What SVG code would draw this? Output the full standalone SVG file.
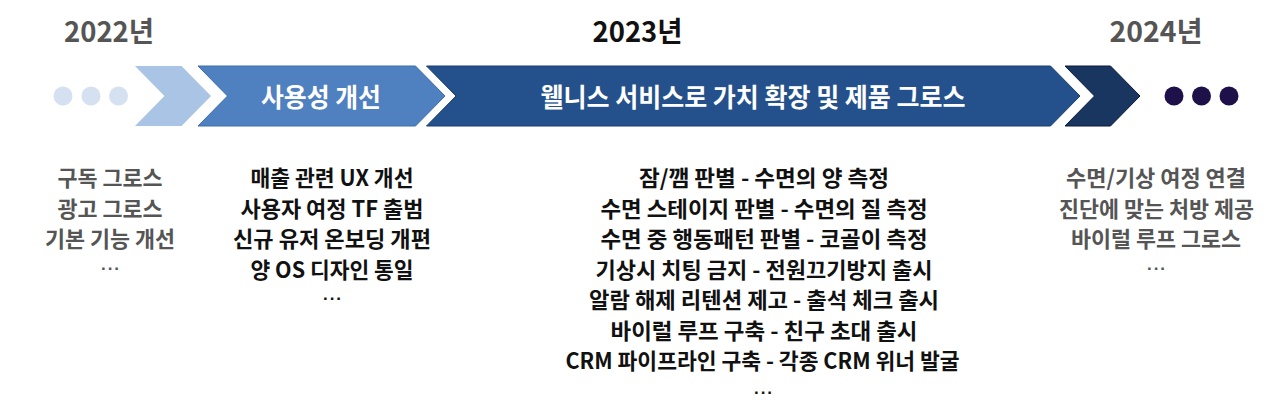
<svg xmlns="http://www.w3.org/2000/svg" width="1280" height="409" viewBox="0 0 1280 409">
<style>
.t{font-family:"Noto Sans CJK KR","Noto Sans",sans-serif;font-weight:700;text-anchor:middle}
.yr{font-size:28.5px}
.gray{fill:#555555}
.blk{fill:#111111}
.head{font-size:26px;fill:#ffffff}
.item{font-size:22px}
.more{font-family:"Liberation Sans",Arial,sans-serif;font-size:17px;letter-spacing:2px}
.dl{fill:#d5e1f0}
.dr{fill:#1e1048}
</style>
<rect width="1280" height="409" fill="#ffffff"/>
<g id="years">
<text class="t yr gray" x="109" y="42" textLength="90" lengthAdjust="spacingAndGlyphs">2022년</text>
<text class="t yr blk" x="637.5" y="42" textLength="90" lengthAdjust="spacingAndGlyphs">2023년</text>
<text class="t yr gray" x="1156" y="42" textLength="93" lengthAdjust="spacingAndGlyphs">2024년</text>
</g>
<g id="dots-left">
<circle class="dl" cx="63" cy="96" r="9.5"/>
<circle class="dl" cx="91" cy="96" r="9.5"/>
<circle class="dl" cx="118.5" cy="96" r="9.5"/>
</g>
<g id="chevron-2022">
<polygon points="135,66 181.5,66 211,96 181.5,126 135,126 164.5,96" fill="#a9c4e5"/>
</g>
<g id="chevron-usability">
<polygon points="198,66 415.5,66 445,96 415.5,126 198,126 227.5,96" fill="#4f80bf" stroke="#3f6ca8" stroke-width="1"/>
<text class="t head" x="321" y="106.5" textLength="120" lengthAdjust="spacingAndGlyphs">사용성 개선</text>
</g>
<g id="chevron-wellness">
<polygon points="426.5,66 1050.5,66 1080,96 1050.5,126 426.5,126 456,96" fill="#24518b" stroke="#1a3f70" stroke-width="1"/>
<text class="t head" x="753" y="106.5" textLength="425" lengthAdjust="spacingAndGlyphs">웰니스 서비스로 가치 확장 및 제품 그로스</text>
</g>
<g id="chevron-2024">
<polygon points="1065,66 1110.5,66 1140,96 1110.5,126 1065,126 1094.5,96" fill="#18365f" stroke="#0b1a3a" stroke-width="1"/>
</g>
<g id="dots-right">
<circle class="dr" cx="1174" cy="96" r="9.5"/>
<circle class="dr" cx="1201.5" cy="96" r="9.5"/>
<circle class="dr" cx="1229" cy="96" r="9.5"/>
</g>
<g id="list-2022" class="t item gray">
<text x="110" y="186" textLength="105" lengthAdjust="spacingAndGlyphs">구독 그로스</text>
<text x="110" y="216.5" textLength="105" lengthAdjust="spacingAndGlyphs">광고 그로스</text>
<text x="110" y="247" textLength="130" lengthAdjust="spacingAndGlyphs">기본 기능 개선</text>
<text class="more" x="111" y="270">...</text>
</g>
<g id="list-usability" class="t item blk">
<text x="332" y="186" textLength="163" lengthAdjust="spacingAndGlyphs">매출 관련 UX 개선</text>
<text x="332" y="216.5" textLength="183" lengthAdjust="spacingAndGlyphs">사용자 여정 TF 출범</text>
<text x="332" y="247" textLength="198" lengthAdjust="spacingAndGlyphs">신규 유저 온보딩 개편</text>
<text x="332" y="277.5" textLength="163" lengthAdjust="spacingAndGlyphs">양 OS 디자인 통일</text>
<text class="more" x="333" y="300">...</text>
</g>
<g id="list-wellness" class="t item blk">
<text x="764" y="186" textLength="250" lengthAdjust="spacingAndGlyphs">잠/깸 판별 - 수면의 양 측정</text>
<text x="764" y="216.5" textLength="327" lengthAdjust="spacingAndGlyphs">수면 스테이지 판별 - 수면의 질 측정</text>
<text x="764" y="247" textLength="327" lengthAdjust="spacingAndGlyphs">수면 중 행동패턴 판별 - 코골이 측정</text>
<text x="764" y="277.5" textLength="337" lengthAdjust="spacingAndGlyphs">기상시 치팅 금지 - 전원끄기방지 출시</text>
<text x="764" y="308" textLength="350" lengthAdjust="spacingAndGlyphs">알람 해제 리텐션 제고 - 출석 체크 출시</text>
<text x="764" y="338.5" textLength="307" lengthAdjust="spacingAndGlyphs">바이럴 루프 구축 - 친구 초대 출시</text>
<text x="762.5" y="369" textLength="394" lengthAdjust="spacingAndGlyphs">CRM 파이프라인 구축 - 각종 CRM 위너 발굴</text>
<text class="more" x="764" y="394">...</text>
</g>
<g id="list-2024" class="t item gray">
<text x="1156" y="186" textLength="180" lengthAdjust="spacingAndGlyphs">수면/기상 여정 연결</text>
<text x="1156.5" y="216.5" textLength="195" lengthAdjust="spacingAndGlyphs">진단에 맞는 처방 제공</text>
<text x="1156" y="247" textLength="170" lengthAdjust="spacingAndGlyphs">바이럴 루프 그로스</text>
<text class="more" x="1157" y="270">...</text>
</g>
</svg>
